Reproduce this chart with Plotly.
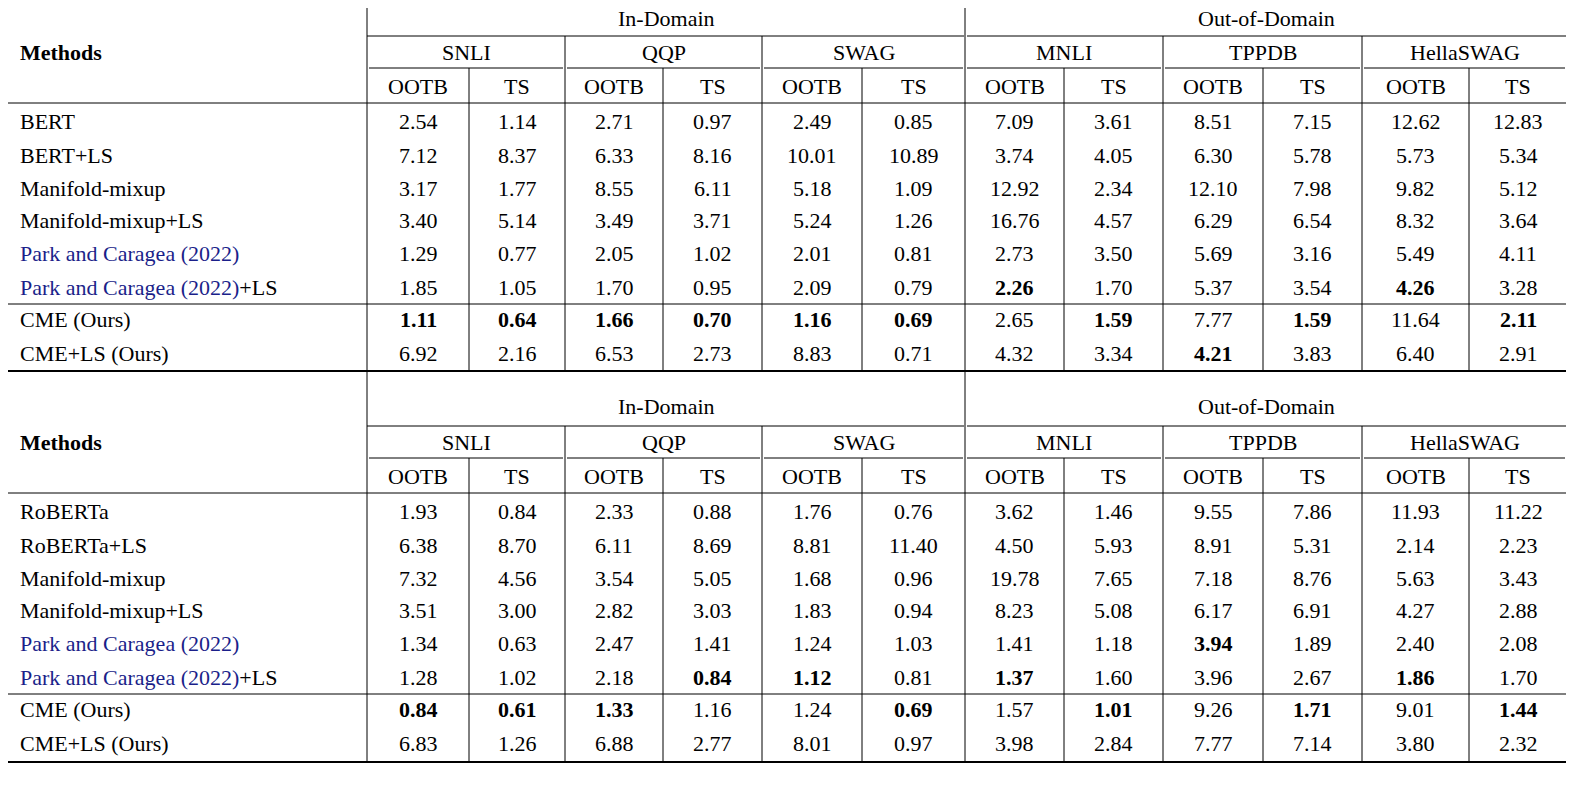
import plotly.graph_objects as go

methods_top = ["BERT", "BERT+LS", "Manifold-mixup", "Manifold-mixup+LS",
               "Park and Caragea (2022)", "Park and Caragea (2022)+LS", "CME (Ours)", "CME+LS (Ours)"]
methods_bot = ["RoBERTa", "RoBERTa+LS", "Manifold-mixup", "Manifold-mixup+LS",
               "Park and Caragea (2022)", "Park and Caragea (2022)+LS", "CME (Ours)", "CME+LS (Ours)"]
domains = ["In-Domain", "Out-of-Domain"]
datasets = ["SNLI", "QQP", "SWAG", "MNLI", "TPPDB", "HellaSWAG"]
metrics = ["OOTB", "TS"]

vals_top = [
    ["2.54", "1.14", "2.71", "0.97", "2.49", "0.85", "7.09", "3.61", "8.51", "7.15", "12.62", "12.83"],
    ["7.12", "8.37", "6.33", "8.16", "10.01", "10.89", "3.74", "4.05", "6.30", "5.78", "5.73", "5.34"],
    ["3.17", "1.77", "8.55", "6.11", "5.18", "1.09", "12.92", "2.34", "12.10", "7.98", "9.82", "5.12"],
    ["3.40", "5.14", "3.49", "3.71", "5.24", "1.26", "16.76", "4.57", "6.29", "6.54", "8.32", "3.64"],
    ["1.29", "0.77", "2.05", "1.02", "2.01", "0.81", "2.73", "3.50", "5.69", "3.16", "5.49", "4.11"],
    ["1.85", "1.05", "1.70", "0.95", "2.09", "0.79", "2.26", "1.70", "5.37", "3.54", "4.26", "3.28"],
    ["1.11", "0.64", "1.66", "0.70", "1.16", "0.69", "2.65", "1.59", "7.77", "1.59", "11.64", "2.11"],
    ["6.92", "2.16", "6.53", "2.73", "8.83", "0.71", "4.32", "3.34", "4.21", "3.83", "6.40", "2.91"],
]
bold_top = [
    [0]*12, [0]*12, [0]*12, [0]*12, [0]*12,
    [0, 0, 0, 0, 0, 0, 1, 0, 0, 0, 1, 0],
    [1, 1, 1, 1, 1, 1, 0, 1, 0, 1, 0, 1],
    [0, 0, 0, 0, 0, 0, 0, 0, 1, 0, 0, 0],
]
vals_bot = [
    ["1.93", "0.84", "2.33", "0.88", "1.76", "0.76", "3.62", "1.46", "9.55", "7.86", "11.93", "11.22"],
    ["6.38", "8.70", "6.11", "8.69", "8.81", "11.40", "4.50", "5.93", "8.91", "5.31", "2.14", "2.23"],
    ["7.32", "4.56", "3.54", "5.05", "1.68", "0.96", "19.78", "7.65", "7.18", "8.76", "5.63", "3.43"],
    ["3.51", "3.00", "2.82", "3.03", "1.83", "0.94", "8.23", "5.08", "6.17", "6.91", "4.27", "2.88"],
    ["1.34", "0.63", "2.47", "1.41", "1.24", "1.03", "1.41", "1.18", "3.94", "1.89", "2.40", "2.08"],
    ["1.28", "1.02", "2.18", "0.84", "1.12", "0.81", "1.37", "1.60", "3.96", "2.67", "1.86", "1.70"],
    ["0.84", "0.61", "1.33", "1.16", "1.24", "0.69", "1.57", "1.01", "9.26", "1.71", "9.01", "1.44"],
    ["6.83", "1.26", "6.88", "2.77", "8.01", "0.97", "3.98", "2.84", "7.77", "7.14", "3.80", "2.32"],
]
bold_bot = [
    [0]*12, [0]*12, [0]*12, [0]*12,
    [0, 0, 0, 0, 0, 0, 0, 0, 1, 0, 0, 0],
    [0, 0, 0, 1, 1, 0, 1, 0, 0, 0, 1, 0],
    [1, 1, 1, 0, 0, 1, 0, 1, 0, 1, 0, 1],
    [0]*12,
]

W, H = 1574, 789
OFF = 8  # page body margin
FONT = "Liberation Serif"
FS = 22
BLUE = "#1b1f8a"
xb = [367, 469, 565, 663, 762, 862, 965, 1064, 1163, 1263, 1362, 1469, 1567]
xleft = 18

fig = go.Figure()
fig.add_trace(go.Scatter(x=[OFF, W], y=[OFF, H], mode="markers", marker=dict(opacity=0), hoverinfo="skip"))
shapes, ann = [], []

def hline(y, x0, x1, w=1):
    shapes.append(dict(type="line", xref="x", yref="y", x0=x0, x1=x1, y0=y, y1=y,
                       line=dict(color="black", width=w)))

def vline(x, y0, y1, w=1):
    shapes.append(dict(type="line", xref="x", yref="y", x0=x, x1=x, y0=y0, y1=y1,
                       line=dict(color="black", width=w)))

def text(x, y, s, anchor="center", bold=False, color="black"):
    if bold:
        s = "<b>" + s + "</b>"
    ann.append(dict(x=x, y=y, xref="x", yref="y", text=s, showarrow=False, xanchor=anchor,
                    yanchor="middle", font=dict(family=FONT, size=FS, color=color)))

def method_label(y, m):
    if m.startswith("Park and Caragea (2022)"):
        rest = m[len("Park and Caragea (2022)"):]
        s = "<span style='color:%s'>Park and Caragea (2022)</span>%s" % (BLUE, rest)
    else:
        s = m
    text(xleft, y, s, anchor="left")

def draw_table(off, hdr_y, top_y, bot_y, methods, vals, bold):
    y1, y2, y3 = hdr_y, 52 + off, 86 + off
    l1, l2, l3 = 36 + off, 68 + off, 103 + off
    text(xleft, y2, "Methods", anchor="left", bold=True)
    for d, dom in enumerate(domains):
        text((xb[6*d] + xb[6*d+6]) / 2, y1, dom)
    hline(l1, xb[0], xb[6] - 1)
    hline(l1, xb[6] + 2, xb[12])
    for i, ds in enumerate(datasets):
        text((xb[2*i] + xb[2*i+2]) / 2, y2, ds)
        hline(l2, xb[2*i] + 2, xb[2*i+2] - 2)
    for j in range(12):
        text((xb[j] + xb[j+1]) / 2, y3, metrics[j % 2])
    hline(l3, 0, xb[12])
    row_y = [121, 155, 188, 220, 253, 287, 319, 353]
    for r, m in enumerate(methods):
        yy = row_y[r] + off
        method_label(yy, m)
        for j in range(12):
            text((xb[j] + xb[j+1]) / 2, yy, vals[r][j], bold=bool(bold[r][j]))
    hline(304 + off, 0, xb[12])
    vline(xb[0], top_y, bot_y)
    vline(xb[6], top_y, bot_y)
    vline(xb[12], top_y, bot_y)
    for k in (2, 4, 8, 10):
        vline(xb[k], l1, bot_y)
    for k in (1, 3, 5, 7, 9, 11):
        vline(xb[k], l2, bot_y)

hline(2, 0, xb[12], 2)
draw_table(0, 18, 2, 371, methods_top, vals_top, bold_top)
hline(371, 0, xb[12], 2)
draw_table(390, 406, 371, 762, methods_bot, vals_bot, bold_bot)
hline(762, 0, xb[12], 2)

fig.update_layout(width=W, height=H, margin=dict(l=0, r=0, t=0, b=0),
                  plot_bgcolor="white", paper_bgcolor="white", showlegend=False,
                  xaxis=dict(range=[OFF, W + OFF], visible=False, fixedrange=True),
                  yaxis=dict(range=[H + OFF, OFF], visible=False, fixedrange=True),
                  shapes=shapes, annotations=ann)
fig.write_html("out.html", config={"displayModeBar": False})
